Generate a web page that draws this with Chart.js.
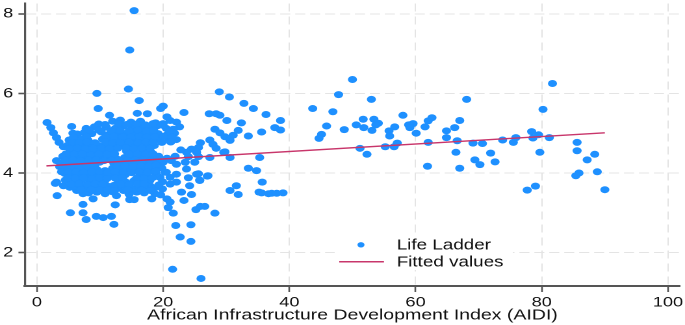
<!DOCTYPE html>
<html><head><meta charset="utf-8">
<style>
html,body{margin:0;padding:0;background:#fff;overflow:hidden;}
#wrap{position:absolute;left:0;top:0;width:527px;height:325px;transform:scaleX(1.29981);transform-origin:0 0;}
canvas{display:block;}
</style>
<script src="https://cdn.jsdelivr.net/npm/chart.js@4"></script>
</head><body>
<div id="wrap"><canvas id="c" width="527" height="325"></canvas></div>
<script>
const xTicks = [0, 20, 40, 60, 80, 100];
const yTicks = [2, 4, 6, 8];
const xTitle = 'African Infrastructure Development Index (AIDI)';
const seriesLabels = ['Life Ladder', 'Fitted values'];

// [AIDI, Life Ladder]
const lifeLadderPoints = [
  [15.4,8.08],[14.7,7.09],[14.5,6.11],[9.5,6.0],[16.2,5.82],[9.7,5.62],[11.5,5.45],[15.9,5.5],[17.5,5.49],
  [1.6,5.27],[2.2,5.14],[2.6,5.01],[3.1,4.89],[3.5,4.77],[4.2,4.66],
  [5.5,5.17],[5.7,5.0],[9.8,5.23],[6.7,4.83],
  [3.1,4.31],[3.6,4.16],[4.4,3.99],[3.1,3.77],[5.2,3.64],[3.2,3.43],[2.9,3.74],
  [5.3,3.0],[7.3,3.21],[7.8,2.83],[7.3,3.0],[9.4,2.91],[10.5,2.88],[11.8,2.91],[12.2,2.71],[8.9,3.35],
  [12.4,3.2],[14.7,3.33],[18.2,3.35],[18.7,3.48],[4.2,3.68],[6.3,3.56],[7.3,3.48],[12.6,3.43],[13.7,3.56],[15.8,3.52],
  [21.5,1.58],[26.0,1.35],[22.0,2.68],[24.4,2.70],[22.7,2.39],[24.4,2.28],[25.2,3.08],[25.9,3.16],[26.6,3.16],
  [28.2,2.99],[21.6,2.99],[20.8,3.13],[23.3,3.31],[20.6,3.35],[24.5,3.46],[22.9,3.52],[21.1,3.27],[15.4,3.33],
  [30.6,3.56],[31.6,3.68],[31.9,3.46],[27.0,3.92],[25.6,3.98],[25.8,3.81],[24.0,3.88],[24.2,3.68],[22.1,3.77],
  [21.1,3.89],[20.5,4.02],[18.4,3.89],[17.9,3.68],[15.3,3.6],[35.2,3.52],
  [28.9,6.04],[30.5,5.91],[32.8,5.75],[34.3,5.62],[20.0,5.68],[19.6,5.62],[23.3,5.52],[20.6,5.41],[21.1,5.32],
  [22.1,5.28],[20.0,5.24],[22.6,5.16],[27.3,5.49],[28.4,5.49],[29.0,5.45],[30.1,5.32],[32.4,5.26],[28.2,5.1],
  [29.0,5.01],[29.8,4.91],[31.1,4.95],[31.9,5.07],[33.5,4.93],[30.6,4.82],[27.4,4.83],[27.9,4.72],[28.4,4.62],
  [29.8,4.53],[25.9,4.76],[25.6,4.64],[24.5,4.6],[23.7,4.52],[25.3,4.52],[25.6,4.41],[24.0,4.41],[23.5,4.27],
  [25.0,4.27],[27.4,4.39],[29.6,4.52],[30.6,4.39],[33.5,4.12],[34.8,4.06],[21.3,4.31],[22.1,4.22],[20.0,4.27],
  [20.3,4.02],[17.9,4.22],[22.1,3.97],[23.7,4.1],[25.3,3.97],[27.1,3.93],[25.8,3.82],[19.5,3.89],[17.9,3.81],[21.1,3.72],
  [50.0,6.35],[47.8,5.97],[53.0,5.85],[43.7,5.62],[46.9,5.54],[36.3,5.47],[38.6,5.32],[37.7,5.14],[38.6,5.08],
  [35.6,5.03],[45.9,5.18],[45.1,4.97],[44.7,4.87],[48.7,5.09],[50.6,5.21],[51.7,5.35],[51.8,5.14],[53.1,5.07],
  [53.4,5.35],[54.1,5.25],[53.7,5.21],[55.8,5.06],[56.7,5.16],[55.9,4.93],[58.0,5.45],[58.9,5.21],[59.6,5.24],
  [59.1,5.14],[60.1,5.0],[61.5,5.16],[62.0,5.31],[62.6,5.39],[64.9,5.06],[66.2,5.14],[67.0,5.32],[68.1,5.85],
  [64.9,4.89],[66.6,4.81],[62.0,4.77],[57.1,4.75],[56.6,4.66],[55.2,4.66],[51.2,4.62],[52.3,4.47],[66.4,4.52],
  [61.9,4.17],[67.0,4.12],[35.3,4.39],[35.7,3.77],[35.6,3.5],[36.7,3.48],[37.2,3.49],[38.0,3.49],[39.0,3.5],
  [81.7,6.25],[80.2,5.6],[78.4,5.04],[79.5,4.96],[75.9,4.89],[78.6,4.88],[81.2,4.89],[73.8,4.83],[75.5,4.77],
  [69.1,4.75],[70.6,4.74],[85.6,4.77],[85.6,4.56],[88.4,4.47],[87.2,4.33],[71.9,4.5],[72.6,4.28],[69.4,4.33],
  [70.2,4.21],[79.7,4.52],[88.8,4.03],[85.9,4.0],[85.4,3.93],[79.0,3.67],[77.7,3.57],[90.0,3.58],
  [12.0,5.3],[13.2,5.33],[14.9,5.28],[16.4,5.3],[18.8,5.26],
  [7.8,5.12],[9.1,5.16],[11.0,5.15],[12.4,5.12],[13.7,5.18],[15.2,5.14],[16.6,5.16],[17.9,5.12],[19.0,5.18],[20.5,5.12],[21.6,5.1],
  [6.4,4.98],[7.5,5.02],[8.7,4.99],[10.2,5.03],[11.4,4.97],[12.7,5.0],[14.0,4.98],[15.3,5.02],[16.5,4.97],[17.8,5.0],[19.2,4.99],[20.6,4.96],[21.8,5.0],
  [5.1,4.83],[7.0,4.86],[8.1,4.82],[10.4,4.85],[11.8,4.84],[13.0,4.87],[14.3,4.83],[15.6,4.86],[16.9,4.82],[18.1,4.85],[19.5,4.83],[20.9,4.86],[22.1,4.84],
  [4.9,4.7],[6.1,4.72],[7.3,4.68],[8.6,4.71],[9.8,4.69],[11.1,4.72],[12.4,4.68],[13.6,4.7],[14.9,4.73],[16.1,4.68],[17.4,4.71],[18.6,4.69],
  [5.5,4.55],[6.7,4.57],[8.0,4.53],[9.2,4.56],[10.5,4.54],[11.8,4.57],[14.2,4.55],[15.5,4.52],[16.7,4.56],[18.0,4.54],[19.3,4.42],[22.8,4.58],
  [4.1,4.42],[5.2,4.4],[6.4,4.37],[7.6,4.41],[8.9,4.38],[10.1,4.4],[11.4,4.43],[12.6,4.36],[13.9,4.39],[15.1,4.42],[16.4,4.38],[17.6,4.4],[18.9,4.37],[21.9,4.42],
  [3.9,4.25],[5.0,4.27],[6.2,4.23],[7.4,4.26],[8.7,4.24],[9.9,4.27],[12.2,4.24],[13.4,4.27],[14.7,4.23],[15.9,4.26],[17.1,4.24],[18.6,4.27],[19.8,4.12],
  [4.6,4.1],[5.8,4.12],[7.0,4.08],[8.3,4.11],[9.5,4.09],[10.8,4.06],[12.0,4.12],[13.3,4.09],[14.5,4.11],[15.8,4.08],[17.0,4.1],[18.3,4.06],[19.3,4.14],
  [5.3,3.95],[6.5,3.97],[7.8,3.93],[9.0,3.96],[10.3,3.94],[11.6,3.97],[12.8,3.93],[14.0,3.96],[16.3,3.95],[17.4,3.92],[18.9,3.98],
  [4.5,3.82],[5.9,3.8],[7.1,3.83],[8.4,3.79],[9.6,3.82],[10.7,3.78],[12.9,3.8],[14.1,3.77],[15.4,3.81],[16.6,3.78],[19.9,3.78],
  [6.2,3.66],[7.6,3.63],[8.9,3.67],[10.1,3.64],[11.4,3.66],[12.6,3.62],[13.9,3.66],[16.2,3.64],[17.4,3.67],[18.7,3.63],[19.9,3.6],
  [8.2,3.5],[9.5,3.52],[10.8,3.48],[11.9,3.53],[14.6,3.47],[17.0,3.5],[19.6,3.45],
  [10.8,5.22],[12.9,5.24],[14.2,5.22],[15.8,5.23],[17.2,5.21],[18.4,5.24],[19.9,5.2],
  [8.3,5.07],[9.8,5.08],[11.8,5.06],[13.2,5.07],[14.6,5.06],[16.0,5.08],[17.3,5.05],[18.5,5.07],[21.0,5.04],
  [5.8,4.9],[7.9,4.92],[10.9,4.91],[12.2,4.92],[13.6,4.91],[14.9,4.9],[16.2,4.92],[17.4,4.9],[18.7,4.91],[20.1,4.92],[21.4,4.9],
  [5.6,4.77],[6.7,4.76],[7.9,4.78],[9.2,4.76],[10.9,4.78],[12.0,4.76],[13.2,4.77],[14.6,4.78],[16.0,4.76],[17.2,4.78],[18.4,4.76],[19.8,4.77],[21.2,4.78],
  [5.1,4.62],[6.4,4.63],[7.7,4.61],[8.9,4.62],[10.2,4.63],[11.5,4.61],[12.8,4.62],[14.1,4.63],[15.4,4.61],[16.6,4.63],[17.9,4.62],
  [4.6,4.48],[5.9,4.47],[7.2,4.48],[8.5,4.46],[9.8,4.48],[11.1,4.47],[12.3,4.48],[14.7,4.47],[15.9,4.48],[17.2,4.46],[18.4,4.48],[20.6,4.37],
  [4.5,4.32],[5.7,4.33],[6.9,4.31],[8.2,4.32],[9.4,4.33],[10.6,4.31],[11.8,4.32],[13.0,4.33],[14.3,4.31],[15.6,4.32],[16.8,4.33],[18.0,4.31],[19.2,4.3],
  [4.2,4.17],[5.4,4.18],[6.7,4.16],[7.9,4.18],[9.1,4.17],[12.7,4.17],[13.9,4.18],[15.2,4.16],[16.5,4.18],[17.7,4.17],[18.9,4.2],
  [3.9,4.03],[5.0,4.02],[6.2,4.03],[7.4,4.01],[8.7,4.03],[9.9,4.02],[11.2,4.01],[12.4,4.03],[13.7,4.02],[15.0,4.01],[16.2,4.03],[17.5,4.02],[18.8,4.05],
  [4.9,3.88],[6.1,3.87],[7.4,3.88],[8.7,3.86],[9.9,3.88],[11.1,3.86],[12.4,3.87],[13.6,3.88],[15.8,3.87],[17.0,3.86],[18.2,3.88],
  [5.4,3.72],[6.7,3.73],[8.0,3.71],[9.2,3.73],[10.4,3.72],[12.2,3.69],[13.3,3.72],[14.6,3.71],[15.9,3.73],[17.0,3.73],[19.3,3.7],
  [7.0,3.58],[8.6,3.58],[10.0,3.57],[11.2,3.58],[12.3,3.56],[14.4,3.58],[16.6,3.57],[18.0,3.56]
];

// fitted regression line endpoints
const fitX = [1.5, 90.0];
const fitY = [4.18, 5.01];

const FONT = "'Liberation Sans', Arial, Helvetica, sans-serif";
const AXIS = '#555555';
const GRID = '#e4e4e4';
const DOT = '#1E90FF';
const FIT = '#c8366b';

const insideLegend = {
  id: 'insideLegend',
  afterDatasetsDraw(chart) {
    const ctx = chart.ctx;
    const ds = chart.data.datasets;
    ctx.save();
    ctx.fillStyle = '#ffffff';
    ctx.fillRect(257.5, 236, 137, 34);
    ctx.font = '14.5px ' + FONT;
    ctx.textBaseline = 'middle';
    ctx.textAlign = 'left';
    ctx.fillStyle = ds[0].backgroundColor;
    ctx.beginPath();
    ctx.arc(277.7, 244.8, 2.7, 0, Math.PI * 2);
    ctx.fill();
    ctx.fillStyle = '#111';
    ctx.fillText(ds[0].label, 305.2, 245.5);
    ctx.strokeStyle = ds[1].borderColor;
    ctx.lineWidth = 1.5;
    ctx.beginPath();
    ctx.moveTo(261, 261.7);
    ctx.lineTo(295.4, 261.7);
    ctx.stroke();
    ctx.fillStyle = '#111';
    ctx.fillText(ds[1].label, 305.2, 262.5);
    ctx.restore();
  }
};

new Chart(document.getElementById('c'), {
  type: 'scatter',
  data: {
    datasets: [
      {
        label: seriesLabels[0],
        data: lifeLadderPoints.map(p => ({x: p[0], y: p[1]})),
        backgroundColor: DOT,
        borderColor: DOT,
        pointRadius: 3.5,
        pointBorderWidth: 0,
        pointHoverRadius: 3.5,
        order: 2
      },
      {
        type: 'line',
        label: seriesLabels[1],
        data: fitX.map((x, i) => ({x: x, y: fitY[i]})),
        borderColor: FIT,
        backgroundColor: FIT,
        borderWidth: 1.5,
        pointRadius: 0,
        fill: false,
        showLine: true,
        order: 1
      }
    ]
  },
  options: {
    responsive: false,
    animation: false,
    devicePixelRatio: 2,
    layout: {padding: {left: 0, right: 3.9, top: 2, bottom: 0}},
    plugins: {legend: {display: false}, tooltip: {enabled: false}},
    scales: {
      x: {
        type: 'linear',
        min: -1.9,
        max: 101.9,
        afterBuildTicks: s => { s.ticks = xTicks.map(v => ({value: v})); },
        afterFit: s => { s.height = 39; s.paddingLeft = 0; s.paddingRight = 0; },
        grid: {color: GRID, lineWidth: 1, tickLength: 6, tickColor: AXIS, tickWidth: 1.3},
        border: {display: true, color: AXIS, width: 2, dash: [8, 5]},
        ticks: {color: '#111', font: {family: FONT, size: 14}, padding: 2, maxRotation: 0, autoSkip: false},
        title: {display: true, text: xTitle, color: '#111', font: {family: FONT, size: 15}, padding: {top: 0, bottom: 0.5}}
      },
      y: {
        type: 'linear',
        min: 1.16,
        max: 8.26,
        afterBuildTicks: s => { s.ticks = yTicks.map(v => ({value: v})); },
        afterFit: s => { s.width = 19.2; s.paddingTop = 0; s.paddingBottom = 0; },
        grid: {color: GRID, lineWidth: 1, tickLength: 5, tickColor: AXIS, tickWidth: 1.6},
        border: {display: true, color: AXIS, width: 1.6, dash: [7.7, 3.8]},
        ticks: {color: '#111', font: {family: FONT, size: 14}, padding: 4, autoSkip: false}
      }
    }
  },
  plugins: [insideLegend]
});
</script>
</body></html>
